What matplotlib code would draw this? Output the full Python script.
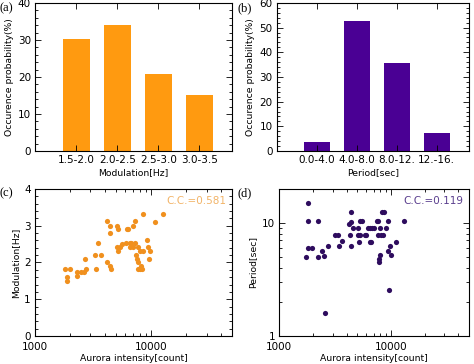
import numpy as np
import matplotlib
matplotlib.use('Agg')
import matplotlib.pyplot as plt
from matplotlib.ticker import AutoMinorLocator, LogLocator, NullFormatter

# Data
mod_labels = ['1.5-2.0', '2.0-2.5', '2.5-3.0', '3.0-3.5']
mod_prob = [30.2, 34.0, 20.8, 15.1]

per_labels = ['0.0-4.0', '4.0-8.0', '8.0-12.', '12.-16.']
per_prob = [3.7, 52.5, 35.8, 7.5]

mod_int = [1810, 2000, 1890, 1890, 2280, 2310, 2510, 2630, 2770, 2700, 3270, 3490,
           3680, 3330, 4200, 4390, 4480, 4200, 4390, 4420, 5080, 5150, 5080, 5180,
           5360, 5640, 6030, 6180, 6260, 6520, 6520, 6740, 6970, 7200, 6970, 7200,
           7440, 7540, 7690, 7690, 7940, 8210, 8320, 7690, 7940, 8590, 8590, 9240,
           9370, 9550, 9790, 10800, 12600]
mod_val = [1.82, 1.82, 1.6, 1.5, 1.73, 1.63, 1.73, 1.75, 1.82, 2.1, 2.2, 2.52,
           2.2, 1.82, 2.0, 1.9, 1.82, 3.13, 3.0, 2.8, 3.0, 2.9, 2.43, 2.32,
           2.43, 2.5, 2.52, 2.9, 2.9, 2.52, 2.43, 2.52, 3.0, 3.13, 2.43, 2.52,
           2.2, 2.1, 2.0, 1.82, 1.82, 1.9, 1.82, 2.43, 2.32, 3.32, 2.32, 2.6,
           2.43, 2.1, 2.32, 3.1, 3.32]

per_int = [1725, 1820, 1820, 1820, 1950, 2230, 2230, 2425, 2540, 2720, 2590, 3185,
           3340, 3450, 3650, 4180, 4270, 4415, 4415, 4415, 4570, 5060, 5060, 5130,
           5300, 5490, 5300, 5800, 6000, 6200, 6420, 6420, 6650, 6740, 7070, 7460,
           7720, 7990, 8150, 8550, 8360, 8720, 8970, 7990, 7870, 7870, 9460, 9460,
           9600, 9790, 10000, 11070, 13130, 7720]
per_val = [4.98, 15.0, 10.3, 6.0, 6.0, 10.3, 4.98, 5.7, 5.1, 6.3, 1.6, 7.8,
           7.8, 6.3, 6.9, 9.8, 7.8, 10.1, 12.4, 6.3, 9.0, 7.8, 9.0, 6.8,
           10.3, 10.3, 7.8, 7.8, 7.8, 9.0, 9.0, 6.8, 6.8, 9.0, 9.0, 10.3,
           10.3, 9.0, 7.8, 7.8, 12.4, 12.6, 9.0, 5.2, 4.75, 4.5, 5.7, 10.3,
           2.53, 6.3, 5.2, 6.8, 10.3, 7.8]

orange = '#FF9A10'
purple = '#4A0094'
fs = 7.5
lfs = 6.7

plt.rcParams['font.family'] = 'DejaVu Sans'
plt.rcParams['font.size'] = fs

fig = plt.figure(figsize=(4.74, 3.64), dpi=100)
ax_a = fig.add_axes([0.074, 0.585, 0.416, 0.407])
ax_b = fig.add_axes([0.584, 0.585, 0.405, 0.407])
ax_c = fig.add_axes([0.074, 0.077, 0.416, 0.404])
ax_d = fig.add_axes([0.589, 0.077, 0.401, 0.404])


def style(ax, xpad=3):
    ax.tick_params(which='both', direction='in', top=True, right=True,
                   labelsize=fs, width=0.6)
    ax.tick_params(which='major', length=4, pad=3)
    ax.tick_params(which='minor', length=2)
    ax.tick_params(axis='x', which='major', pad=xpad)
    for s in ax.spines.values():
        s.set_linewidth(0.8)


# (a) modulation histogram
pos = np.arange(1, len(mod_prob) + 1)
ax_a.bar(pos, mod_prob, width=0.65, color=orange)
ax_a.set_xlim(0, 4.8)
ax_a.set_ylim(0, 40)
ax_a.set_xticks(pos)
ax_a.set_xticklabels(mod_labels)
ax_a.set_yticks([0, 10, 20, 30, 40])
ax_a.yaxis.set_minor_locator(AutoMinorLocator(5))
ax_a.set_xlabel('Modulation[Hz]', fontsize=lfs, labelpad=2)
ax_a.set_ylabel('Occurence probability(%)', fontsize=lfs, labelpad=3)
style(ax_a)

# (b) period histogram
ax_b.bar(pos, per_prob, width=0.65, color=purple)
ax_b.set_xlim(0, 4.8)
ax_b.set_ylim(0, 60)
ax_b.set_xticks(pos)
ax_b.set_xticklabels(per_labels)
ax_b.set_yticks([0, 10, 20, 30, 40, 50, 60])
ax_b.yaxis.set_minor_locator(AutoMinorLocator(5))
ax_b.set_xlabel('Period[sec]', fontsize=lfs, labelpad=2)
ax_b.set_ylabel('Occurence probability(%)', fontsize=lfs, labelpad=3)
style(ax_b)

# (c) modulation vs intensity
ax_c.scatter(mod_int, mod_val, s=14, color='#F0901E', linewidths=0)
ax_c.set_xscale('log')
ax_c.set_xlim(1000, 50000)
ax_c.set_ylim(0, 4)
ax_c.set_xticks([1000, 10000])
ax_c.set_xticklabels(['1000', '10000'])
ax_c.xaxis.set_minor_locator(LogLocator(subs=np.arange(2, 10)))
ax_c.xaxis.set_minor_formatter(NullFormatter())
ax_c.set_yticks([0, 1, 2, 3, 4])
ax_c.yaxis.set_minor_locator(AutoMinorLocator(5))
ax_c.set_xlabel('Aurora intensity[count]', fontsize=lfs, labelpad=1)
ax_c.set_ylabel('Modulation[Hz]', fontsize=lfs, labelpad=3)
ax_c.text(0.97, 0.95, 'C.C.=0.581', transform=ax_c.transAxes, ha='right',
          va='top', color='#F2B468', fontsize=fs)
style(ax_c, xpad=4.5)

# (d) period vs intensity
ax_d.scatter(per_int, per_val, s=14, color='#2E0C5E', linewidths=0)
ax_d.set_xscale('log')
ax_d.set_yscale('log')
ax_d.set_xlim(1000, 50000)
ax_d.set_ylim(1, 20)
ax_d.set_xticks([1000, 10000])
ax_d.set_xticklabels(['1000', '10000'])
ax_d.set_yticks([1, 10])
ax_d.set_yticklabels(['1', '10'])
ax_d.xaxis.set_minor_locator(LogLocator(subs=np.arange(2, 10)))
ax_d.xaxis.set_minor_formatter(NullFormatter())
ax_d.yaxis.set_minor_locator(LogLocator(subs=np.arange(2, 10)))
ax_d.yaxis.set_minor_formatter(NullFormatter())
ax_d.set_xlabel('Aurora intensity[count]', fontsize=lfs, labelpad=1)
ax_d.set_ylabel('Period[sec]', fontsize=lfs, labelpad=3)
ax_d.text(0.97, 0.95, 'C.C.=0.119', transform=ax_d.transAxes, ha='right',
          va='top', color='#5A3E8E', fontsize=fs)
style(ax_d, xpad=4.5)

# panel letters
for lab, x, y in [('(a)', 0.0, 0.995), ('(b)', 0.5, 0.995),
                  ('(c)', 0.0, 0.485), ('(d)', 0.5, 0.485)]:
    fig.text(x, y, lab, family='Liberation Serif', fontsize=9, va='top')

fig.savefig('out.png', dpi=100)
